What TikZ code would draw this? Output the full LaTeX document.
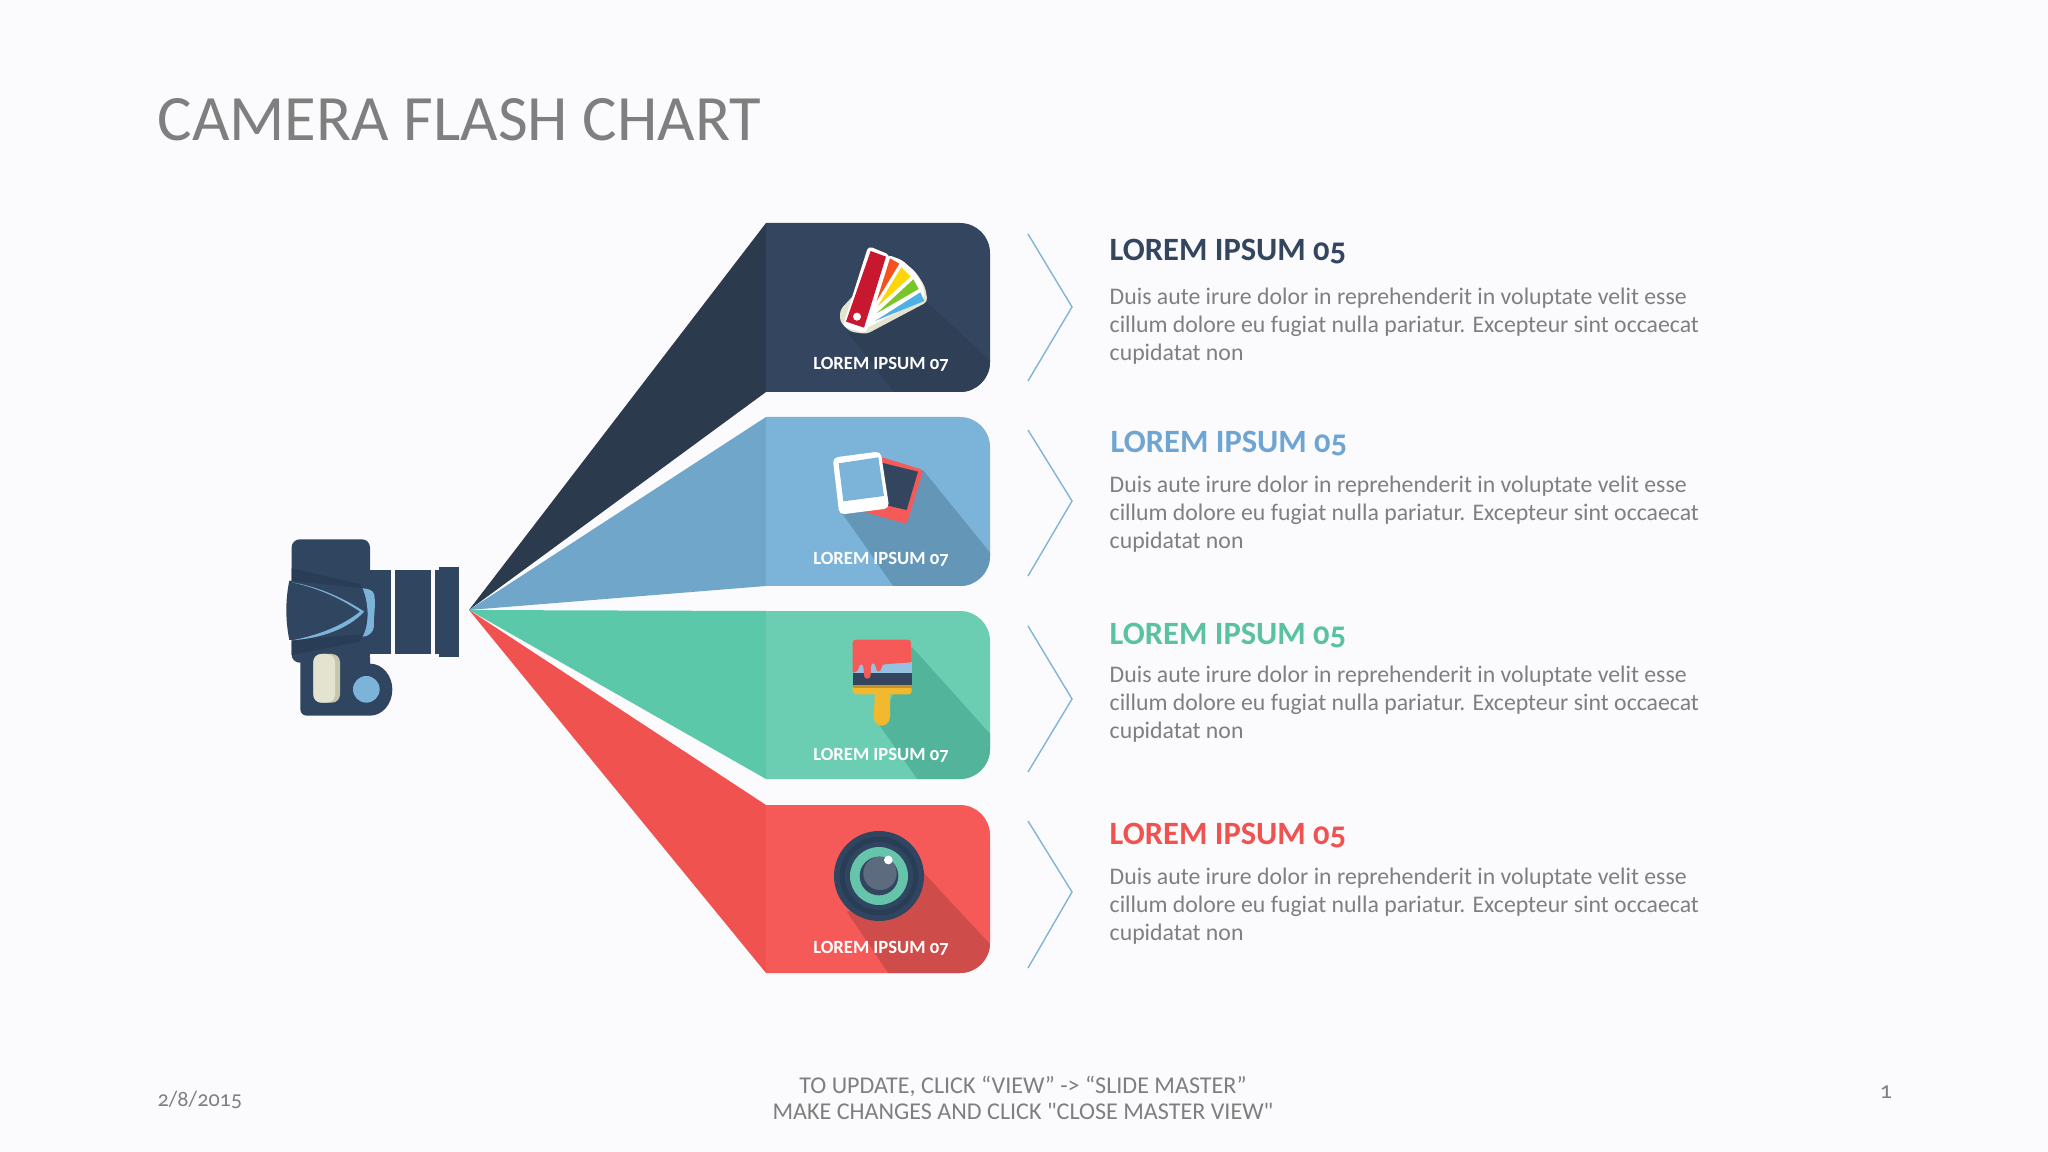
\documentclass[tikz,border=0pt]{standalone}
\usepackage{fontspec}
\setmainfont{Carlito}[Numbers=OldStyle, Ligatures=TeXOff]
\definecolor{paper}{HTML}{FBFBFD}
\definecolor{greytext}{HTML}{7F7F7F}
\definecolor{navy}{HTML}{34465F}
\definecolor{navydark}{HTML}{2B3A4D}
\definecolor{navyshade}{HTML}{2F3F56}
\definecolor{sky}{HTML}{7CB3D9}
\definecolor{skydark}{HTML}{70A6C9}
\definecolor{skyshade}{HTML}{6496B8}
\definecolor{skyhead}{HTML}{6FA5D2}
\definecolor{mint}{HTML}{6BCEB3}
\definecolor{mintdark}{HTML}{5BC9A9}
\definecolor{mintshade}{HTML}{52B59B}
\definecolor{minthead}{HTML}{5BC2A0}
\definecolor{coral}{HTML}{F55A58}
\definecolor{coraldark}{HTML}{F0524F}
\definecolor{coralshade}{HTML}{CE4C4A}
\definecolor{camera}{HTML}{2F4560}
\definecolor{camdark}{HTML}{2A3D56}
\definecolor{chevron}{HTML}{7FB5D6}
\definecolor{cream}{HTML}{E3E3CF}
\definecolor{creamdark}{HTML}{C6C6AF}
\definecolor{brush}{HTML}{F2B92E}
\definecolor{fanred}{HTML}{C8182F}
\definecolor{fanorange}{HTML}{F4511E}
\definecolor{fanyellow}{HTML}{FDD60A}
\definecolor{fangreen}{HTML}{7AC52A}
\definecolor{fanblue}{HTML}{4DB0E6}
\newcommand{\cardpath}[2]{(766,#1) -- (960,#1) arc[start angle=-90,end angle=0,radius=30] -- (990,#2-30) arc[start angle=0,end angle=90,radius=30] -- (766,#2) -- cycle}
\begin{document}
\begin{tikzpicture}
  [x=0.01cm, y=-0.01cm,
   headline/.style={anchor=west, inner sep=0pt, font=\fontsize{9.25}{10}\selectfont\bfseries},
   bodytext/.style={anchor=west, inner sep=0pt, align=left, text=greytext, font=\fontsize{6.76}{8.05}\selectfont},
   cardlabel/.style={inner sep=0pt, text=white, font=\fontsize{5.3}{7}\selectfont\bfseries},
   foottext/.style={inner sep=0pt, text=greytext, font=\fontsize{6.85}{7.6}\selectfont}]
  \useasboundingbox (0,0) rectangle (2048,1152);
  \fill[paper] (0,0) rectangle (2048,1152);

  \node (title) [anchor=west, inner sep=0pt, text=greytext, font=\fontsize{18.4}{20}\selectfont] at (157,120) {CAMERA FLASH CHART};

  \fill[navydark] (469,610) -- (766,223) -- (766,392) -- cycle;
  \fill[skydark] (469,610) -- (766,417) -- (766,586) -- cycle;
  \fill[mintdark] (469,610) -- (766,611) -- (766,779) -- cycle;
  \fill[coraldark] (469,610) -- (766,805) -- (766,973) -- cycle;

  \fill[navy] \cardpath{223}{392};
  \fill[sky] \cardpath{417}{586};
  \fill[mint] \cardpath{611}{779};
  \fill[coral] \cardpath{805}{973};

  \begin{scope}
    \clip \cardpath{223}{392};
    \fill[navyshade] (927,302) -- (1000,370) -- (1000,400) -- (900,400) -- (848,333) -- cycle;
  \end{scope}
  \begin{scope}
    \clip \cardpath{417}{586};
    \fill[skyshade] (923,470) -- (1000,565) -- (1000,600) -- (903,600) -- (842,513) -- cycle;
  \end{scope}
  \begin{scope}
    \clip \cardpath{611}{779};
    \fill[mintshade] (912,647) -- (1000,745) -- (1000,790) -- (925,790) -- (880,726) -- cycle;
  \end{scope}
  \begin{scope}
    \clip \cardpath{805}{973};
    \fill[coralshade] (923,872) -- (1000,955) -- (1000,980) -- (893,980) -- (847,912) -- cycle;
  \end{scope}

  % swatch fan
  \begin{scope}[shift={(760,215)}, scale=1/3]
    \fill[cream, rounded corners=0.04cm] (240,285) -- (388,125) -- (425,135) -- (470,175) -- (495,215) -- (503,260) -- (320,357) -- (270,350) -- (240,320) -- cycle;
    \fill[white, rounded corners=0.03cm] (385,120) -- (425,135) -- (465,170) -- (488,210) -- (495,250) -- (318,340) -- cycle;
    \fill[fanorange] (390,130) -- (418,146) -- (350,258) -- cycle;
    \fill[fanyellow] (424,157) -- (452,185) -- (352,275) -- cycle;
    \fill[fangreen] (460,193) -- (476,222) -- (350,295) -- cycle;
    \fill[fanblue] (481,232) -- (493,258) -- (345,318) -- cycle;
    \fill[white, rounded corners=0.04cm] (325,93) -- (390,120) -- (318,355) -- (248,335) -- cycle;
    \fill[fanred] (332,108) -- (378,125) -- (312,338) -- (258,320) -- cycle;
    \fill[white] (291,305) circle[radius=12];
  \end{scope}

  % polaroids
  \begin{scope}[shift={(760,410)}, scale=1/3]
    \fill[coral, rounded corners=0.03cm] (360,140) -- (490,180) -- (440,342) -- (310,305) -- cycle;
    \fill[navy] (365,158) -- (474,185) -- (440,300) -- (375,285) -- cycle;
    \fill[white, rounded corners=0.05cm] (218,143) -- (362,124) -- (388,295) -- (238,314) -- cycle;
    \fill[sky] (236,160) -- (355,142) -- (372,258) -- (250,274) -- cycle;
  \end{scope}

  % paint brush
  \begin{scope}[shift={(760,605)}, scale=1/3]
    \fill[brush] (345,262) -- (390,262) -- (390,320) .. controls (392,345) and (385,362) .. (365,362) .. controls (345,362) and (338,345) .. (342,320) -- cycle;
    \fill[brush, rounded corners=0.03cm] (278,240) -- (455,240) -- (455,268) -- (278,268) -- cycle;
    \fill[brush!80!black] (278,240) rectangle (455,248);
    \fill[navy] (278,205) rectangle (455,240);
    \fill[sky!80!white] (278,172) rectangle (455,205);
    \fill[coral, rounded corners=0.03cm] (278,104) -- (453,104) -- (453,172) -- (278,172) -- cycle;
    \fill[coral] (278,160) -- (453,160) -- (453,172) -- (372,178) .. controls (364,178) and (366,200) .. (355,200) .. controls (345,200) and (350,175) .. (340,175) .. controls (332,175) and (333,185) .. (332,212) .. controls (330,224) and (314,224) .. (312,212) .. controls (312,190) and (310,178) .. (303,178) .. controls (296,178) and (298,200) .. (285,202) -- (278,202) -- cycle;
  \end{scope}

  % lens
  \begin{scope}[shift={(760,800)}, scale=1/3]
    \fill[camera] (357,228) circle[radius=135];
    \fill[camdark] (357,228) circle[radius=118];
    \fill[camera] (357,228) circle[radius=102];
    \fill[mint!95!black] (357,228) circle[radius=87];
    \fill[navy] (357,228) circle[radius=58];
    \fill[navy!80!white] (360,220) circle[radius=50];
    \fill[white] (385,180) circle[radius=13];
  \end{scope}

  \node (labelA) [cardlabel] at (881,364) {LOREM IPSUM 07};
  \node (labelB) [cardlabel] at (881,559) {LOREM IPSUM 07};
  \node (labelC) [cardlabel] at (881,755) {LOREM IPSUM 07};
  \node (labelD) [cardlabel] at (881,948) {LOREM IPSUM 07};

  \draw[chevron, line width=0.4pt] (1028,234) -- (1072,307) -- (1028,381);
  \draw[chevron, line width=0.4pt] (1028,430) -- (1072,501) -- (1028,576);
  \draw[chevron, line width=0.4pt] (1028,626) -- (1072,699) -- (1028,772);
  \draw[chevron, line width=0.4pt] (1028,821) -- (1072,892) -- (1028,968);

  \node (headA) [headline, text=navy] at (1109,252) {LOREM IPSUM 05};
  \node (headB) [headline, text=skyhead] at (1110,444) {LOREM IPSUM 05};
  \node (headC) [headline, text=minthead] at (1109,636) {LOREM IPSUM 05};
  \node (headD) [headline, text=coraldark] at (1109,836) {LOREM IPSUM 05};

  \node (bodyA) [bodytext] at (1109,326) {Duis aute irure dolor in reprehenderit in voluptate velit esse\\cillum dolore eu fugiat nulla pariatur. Excepteur sint occaecat\\cupidatat non};
  \node (bodyB) [bodytext] at (1109,514) {Duis aute irure dolor in reprehenderit in voluptate velit esse\\cillum dolore eu fugiat nulla pariatur. Excepteur sint occaecat\\cupidatat non};
  \node (bodyC) [bodytext] at (1109,704) {Duis aute irure dolor in reprehenderit in voluptate velit esse\\cillum dolore eu fugiat nulla pariatur. Excepteur sint occaecat\\cupidatat non};
  \node (bodyD) [bodytext] at (1109,906) {Duis aute irure dolor in reprehenderit in voluptate velit esse\\cillum dolore eu fugiat nulla pariatur. Excepteur sint occaecat\\cupidatat non};

  \node (date) [anchor=west, inner sep=0pt, text=greytext, font=\fontsize{6.3}{7.6}\selectfont] at (157,1100) {2/8/2015};
  \node (update) [foottext, align=center] at (1023,1098) {TO UPDATE, CLICK “VIEW” -> “SLIDE MASTER”\\MAKE CHANGES AND CLICK "CLOSE MASTER VIEW"};
  \node (page) [foottext] at (1886,1092) {1};

  % camera
  \begin{scope}[shift={(260,510)}, scale=1/3]
    \fill[camera] (330,181) rectangle (392,431);
    \fill[camera] (405,181) rectangle (513,431);
    \fill[camera] (525,181) rectangle (540,431);
    \fill[camera] (537,170) rectangle (597,442);
    \fill[camera, rounded corners=0.08cm] (95,88) -- (330,88) -- (330,458) -- (95,458) -- cycle;
    \fill[camera] (121,440) -- (330,440) -- (330,461) arc[start angle=-90,end angle=90,x radius=67,y radius=78] -- (140,617) arc[start angle=90,end angle=180,radius=19] -- cycle;
    \fill[camdark] (95,175) -- (300,222) -- (330,300) -- (300,395) -- (95,435) -- cycle;
    \fill[camera] (88,212) .. controls (76,270) and (76,330) .. (88,390) -- (310,372) -- (322,300) -- (310,235) -- cycle;
    \fill[sky] (308,235) .. controls (320,235) and (342,240) .. (343,255) .. controls (348,290) and (340,320) .. (342,350) .. controls (340,370) and (322,380) .. (308,380) .. controls (325,350) and (330,290) .. (308,235) -- cycle;
    \fill[sky] (95,217) .. controls (180,230) and (260,270) .. (313,305) .. controls (260,360) and (180,385) .. (95,391) .. controls (180,375) and (250,345) .. (300,305) .. controls (250,270) and (180,235) .. (95,217) -- cycle;
    \fill[creamdark, rounded corners=0.08cm] (160,432) -- (240,432) -- (240,578) -- (160,578) -- cycle;
    \fill[cream, rounded corners=0.08cm] (160,432) -- (225,432) -- (225,578) -- (160,578) -- cycle;
    \fill[sky] (319,538) circle[radius=40];
  \end{scope}
\end{tikzpicture}
\end{document}
